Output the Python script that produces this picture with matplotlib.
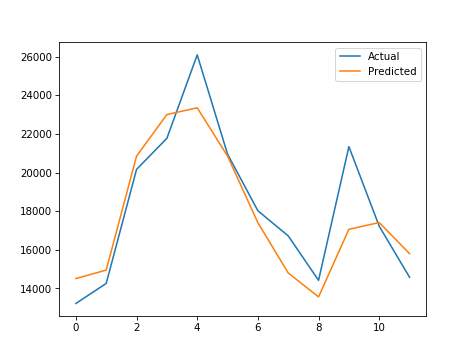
import matplotlib
matplotlib.use("Agg")
import matplotlib.pyplot as plt

x_idx = list(range(12))
actual = [13220, 14260, 20160, 21770, 26090, 20950, 18020, 16720, 14420, 21340, 17220, 14580]
predicted = [14510, 14950, 20850, 23000, 23350, 20850, 17400, 14800, 13560, 17060, 17410, 15800]

fig, ax = plt.subplots(figsize=(6.4, 4.8), dpi=74)
ax.plot(x_idx, actual, label="Actual")
ax.plot(x_idx, predicted, label="Predicted")
ax.legend()
fig.savefig("out.png", dpi=74)
